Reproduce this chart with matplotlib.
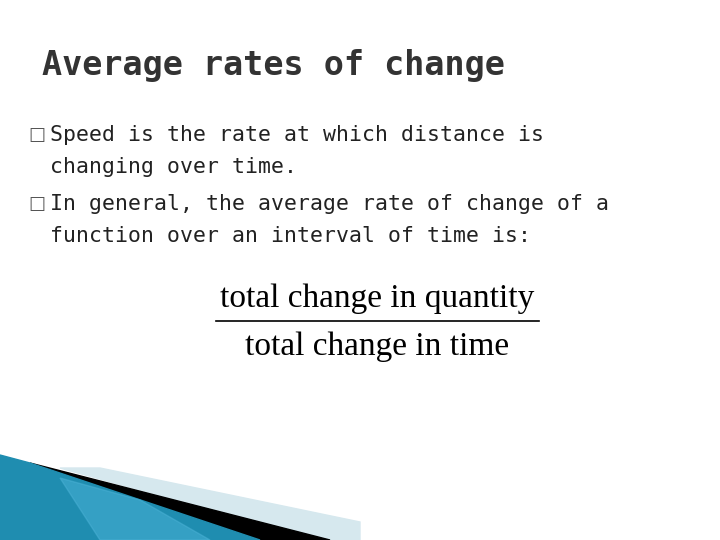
import matplotlib
matplotlib.use("Agg")
import matplotlib.pyplot as plt
from matplotlib.patches import Polygon

title = "Average rates of change"
bullets = [("Speed is the rate at which distance is", "changing over time."),
           ("In general, the average rate of change of a", "function over an interval of time is:")]
numerator = "total change in quantity"
denominator = "total change in time"

fig = plt.figure(figsize=(7.2, 5.4), dpi=100)
ax = fig.add_axes([0, 0, 1, 1])
ax.set_xlim(0, 720); ax.set_ylim(540, 0); ax.axis("off")

# decorative bands bottom-left
ax.add_patch(Polygon([(100, 468), (360, 522), (360, 540), (320, 540), (60, 468)], closed=True, color="#d6e8ee"))
ax.add_patch(Polygon([(30, 463), (330, 540), (250, 540)], closed=True, color="black"))
ax.add_patch(Polygon([(0, 455), (30, 463), (260, 540), (0, 540)], closed=True, color="#1f8db0"))
ax.add_patch(Polygon([(60, 478), (140, 500), (210, 540), (100, 540)], closed=True, color="#4cb3d8", alpha=0.5))

ax.text(42, 65, title, fontsize=24, family="DejaVu Sans Mono", color="#333333", va="center", fontweight="bold")

ys = [135, 204]
for (l1, l2), y in zip(bullets, ys):
    ax.text(28, y, "\u25a1", fontsize=13, color="#555555", va="center")
    ax.text(50, y, l1, fontsize=15.5, color="#222222", va="center", family="DejaVu Sans Mono")
    ax.text(50, y + 32, l2, fontsize=15.5, color="#222222", va="center", family="DejaVu Sans Mono")

ax.text(377, 299, numerator, fontsize=24, family="Liberation Serif", ha="center", va="center")
ax.plot([216, 539], [321, 321], color="black", lw=1.2)
ax.text(377, 347, denominator, fontsize=24, family="Liberation Serif", ha="center", va="center")

fig.savefig("out.png", dpi=100)
